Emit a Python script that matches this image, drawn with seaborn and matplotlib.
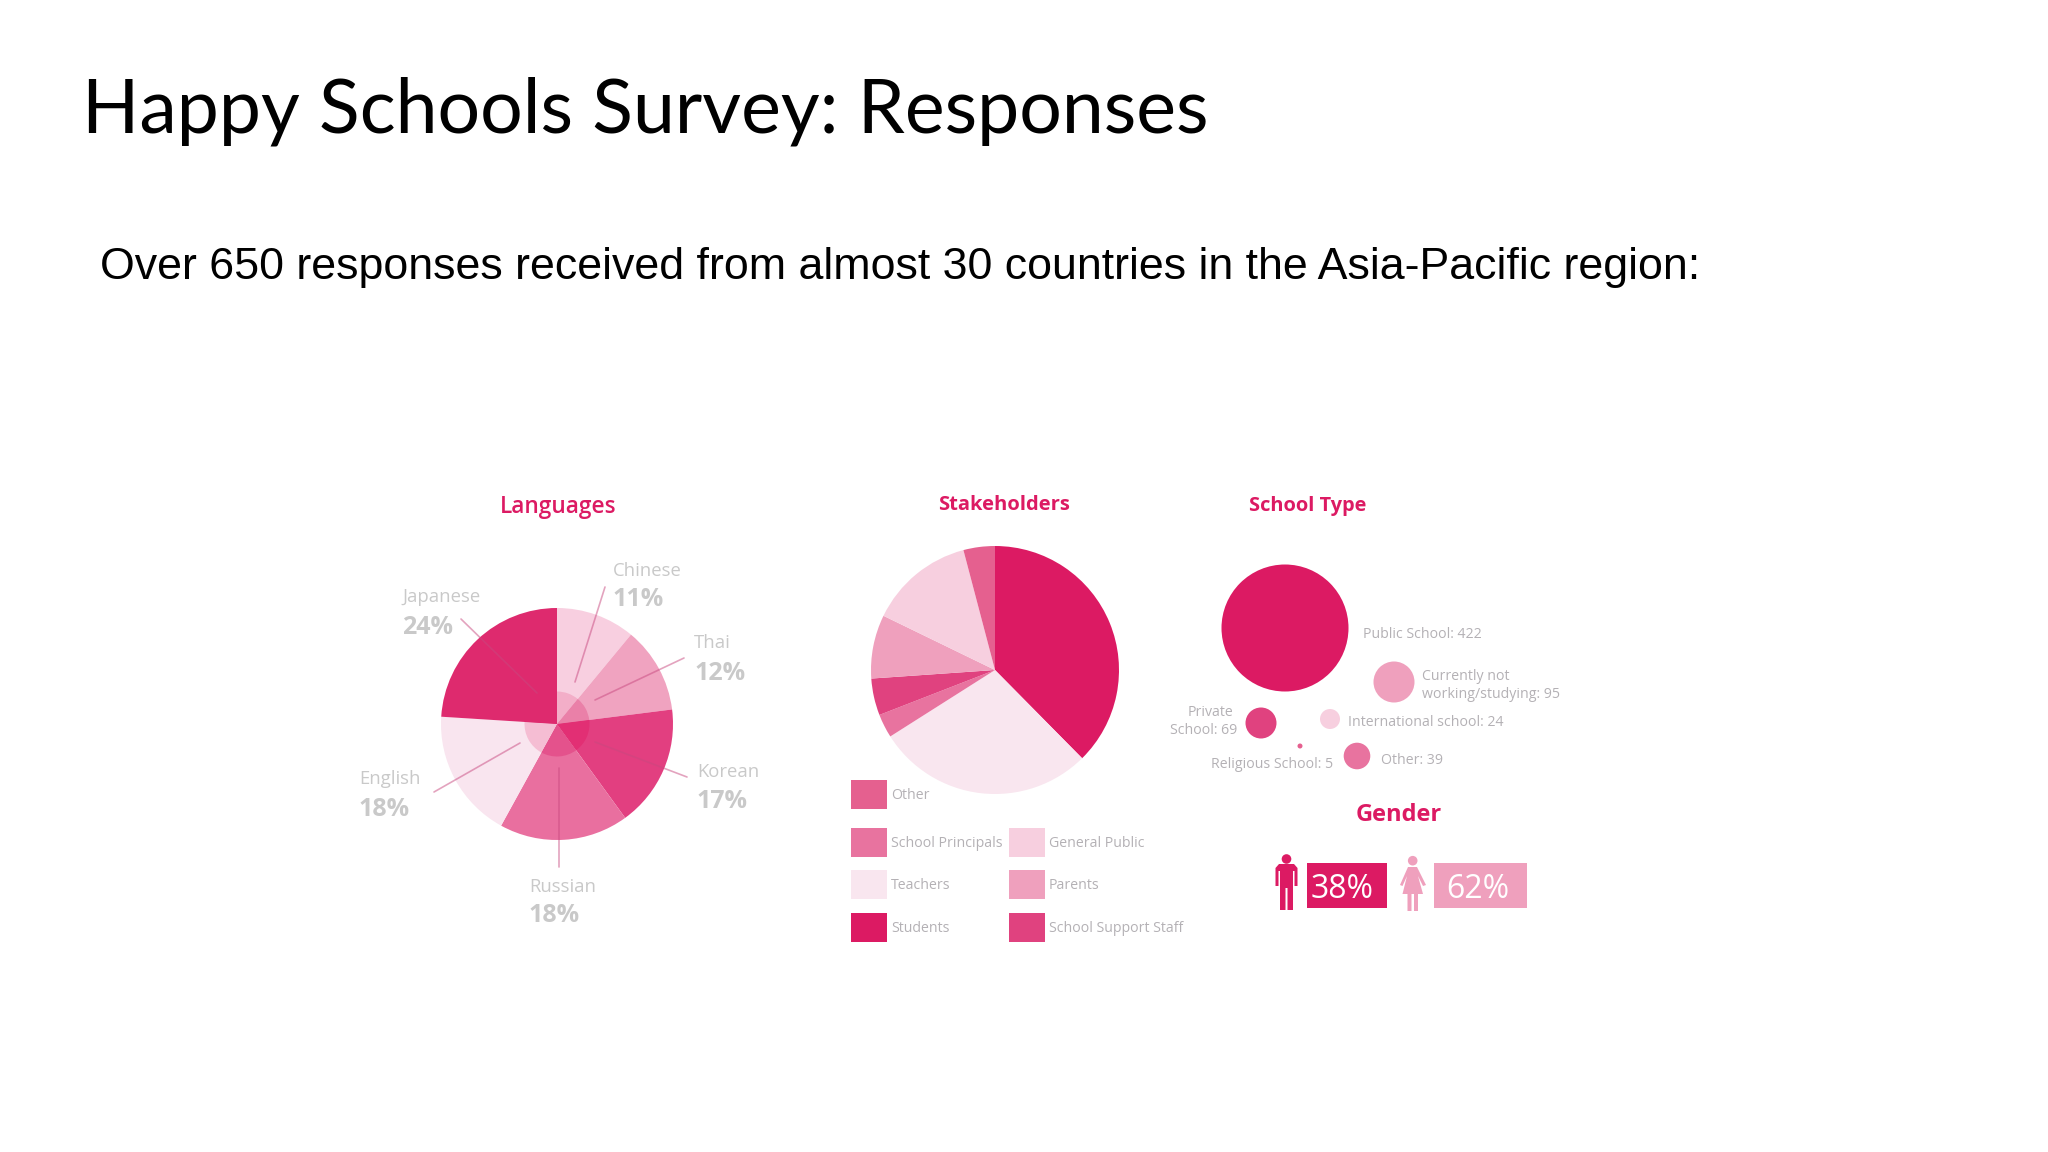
import matplotlib
matplotlib.use('Agg')
import matplotlib.pyplot as plt
from matplotlib.patches import Rectangle, Circle, Polygon
import pandas as pd
import seaborn as sns

PAGE_W, PAGE_H = 2048, 1152

# values
languages = ['Chinese', 'Thai', 'Korean', 'Russian', 'English', 'Japanese']
language_pct = [11, 12, 17, 18, 18, 24]
stakeholders = ['Students', 'Teachers', 'School Principals', 'School Support Staff',
                'Parents', 'General Public', 'Other']
stakeholder_pct = [37.6, 28.4, 3.1, 4.8, 8.3, 13.7, 4.1]
school_types = ['Public School', 'Currently not working/studying', 'Private School',
                'International school', 'Religious School', 'Other']
school_counts = [422, 95, 69, 24, 5, 39]
gender_pct = [38, 62]

# colours
PINK = '#dc1a63'
language_colors = ['#f8cfe0', '#f0a3c0', '#e23f80', '#e96f9f', '#f9e5ef', '#de2a6e']
language_inner = ['#f3aec8', '#ea80a8', '#e22f74', '#e4528c', '#f5bdd3', '#de2a6e']
stakeholder_colors = ['#dc1a63', '#f9e6ef', '#e8739f', '#e0427f', '#efa0bd', '#f7cfdf', '#e5608f']
bubble_colors = ['#dc1a63', '#efa0bd', '#e0427f', '#f7cfdf', '#e5608f', '#e8739f']
LABEL_GREY = '#c9c9c9'
TEXT_GREY = '#b4b1b5'
NO_EDGE = {'linewidth': 0}

sns.set_theme(style='white')
plt.rcParams['font.family'] = ['Open Sans', 'DejaVu Sans']

fig = plt.figure(figsize=(PAGE_W / 100, PAGE_H / 100), dpi=100, facecolor='white')
page = fig.add_axes([0, 0, 1, 1])
page.set_xlim(0, PAGE_W)
page.set_ylim(PAGE_H, 0)
page.axis('off')


def pie_axes(cx, cy, r):
    pad = r * 1.05
    ax = fig.add_axes([(cx - pad) / PAGE_W, 1 - (cy + pad) / PAGE_H, 2 * pad / PAGE_W, 2 * pad / PAGE_H])
    ax.set_zorder(1)
    return ax


# headers
page.text(82, 111, 'Happy Schools Survey: Responses', family='Lato', fontsize=54.2, color='black', va='center')
page.text(100, 268, 'Over 650 responses received from almost 30 countries in the Asia-Pacific region:',
          family='Liberation Sans', fontsize=32.2, color='black', va='center')

for txt, x, y, size, weight in [('Languages', 558, 507, 16.3, 'semibold'), ('Stakeholders', 1004, 505, 14.5, 'bold'),
                                ('School Type', 1308, 506, 14.4, 'bold'), ('Gender', 1399, 815, 17, 'bold')]:
    page.text(x, y, txt, color=PINK, fontsize=size, fontweight=weight, ha='center', va='center')

# Languages pie, with a small inner ring in a shifted tint
ax = pie_axes(557, 724, 116)
ax.pie(language_pct, colors=sns.color_palette(language_colors), startangle=90, counterclock=False,
       radius=1, wedgeprops=NO_EDGE)
ax.pie(language_pct, colors=sns.color_palette(language_inner), startangle=90, counterclock=False,
       radius=0.28, wedgeprops=NO_EDGE)
ax.set_xlim(-1.05, 1.05)
ax.set_ylim(-1.05, 1.05)

lines_ax = fig.add_axes([0, 0, 1, 1], facecolor='none')
lines_ax.set_xlim(0, PAGE_W)
lines_ax.set_ylim(PAGE_H, 0)
lines_ax.axis('off')
lines_ax.set_zorder(2)
for x0, y0, x1, y1 in [(605, 587, 575, 682), (684, 658, 595, 700), (687, 777, 595, 742),
                       (559, 867, 559, 768), (434, 792, 520, 743), (461, 619, 537, 693)]:
    lines_ax.plot([x0, x1], [y0, y1], color='#c8487f', alpha=0.5, lw=1.2)

label_pos = [(613, 571, 600), (694, 643, 673), (697, 772, 802), (529, 887, 916), (359, 779, 810), (402, 597, 627)]
for name, pct, (x, y0, y1) in zip(languages, language_pct, label_pos):
    page.text(x, y0, name, color=LABEL_GREY, fontsize=13.3, va='center')
    page.text(x, y1, f'{pct}%', color=LABEL_GREY, fontsize=18, fontweight='bold', va='center')

# Stakeholders pie and its legend
ax = pie_axes(995, 670, 124)
ax.pie(stakeholder_pct, colors=sns.color_palette(stakeholder_colors), startangle=90, counterclock=False,
       wedgeprops=NO_EDGE)
ax.set_xlim(-1.05, 1.05)
ax.set_ylim(-1.05, 1.05)

legend_pos = {'Other': (851, 780), 'School Principals': (851, 828), 'General Public': (1009, 828),
              'Teachers': (851, 870), 'Parents': (1009, 870), 'Students': (851, 913),
              'School Support Staff': (1009, 913)}
for name, color in zip(stakeholders, stakeholder_colors):
    x, y = legend_pos[name]
    page.add_patch(Rectangle((x, y), 35.5, 28.5, color=color, lw=0))
    page.text(x + 40, y + 15.5, name, color=TEXT_GREY, fontsize=10.2, va='center')

# School type bubbles
bubbles = pd.DataFrame({
    'school': school_types,
    'count': school_counts,
    'x': [1285, 1394, 1261, 1330, 1300, 1357],
    'y': [628, 682, 723, 719, 746, 756],
})
bubble_r = {422: 63.5, 95: 20.5, 69: 15.5, 24: 10, 5: 2.5, 39: 13.3}
bubble_sizes = {k: (2 * r * 0.72) ** 2 for k, r in bubble_r.items()}
sns.scatterplot(data=bubbles, x='x', y='y', size='count', sizes=bubble_sizes, hue='school',
                palette=dict(zip(school_types, bubble_colors)), linewidth=0, legend=False, ax=page)
page.set_xlim(0, PAGE_W)
page.set_ylim(PAGE_H, 0)

for txt, x, y, ha in [('Public School: 422', 1363, 635, 'left'), ('Currently not', 1422, 677, 'left'),
                      ('working/studying: 95', 1422, 694, 'left'), ('International school: 24', 1348, 722, 'left'),
                      ('Private', 1233, 713, 'right'), ('School: 69', 1237, 730, 'right'),
                      ('Religious School: 5', 1211, 765, 'left'), ('Other: 39', 1381, 760, 'left')]:
    page.text(x, y, txt, color=TEXT_GREY, fontsize=10.2, ha=ha, va='center')

# Gender icons and boxes
page.add_patch(Rectangle((1307, 863), 80, 45, color=PINK, lw=0))
page.add_patch(Rectangle((1434, 863), 93, 45, color='#efa0bd', lw=0))
page.text(1342, 890, f'{gender_pct[0]}%', color='white', fontsize=23, ha='center', va='center')
page.text(1478, 890, f'{gender_pct[1]}%', color='white', fontsize=23, ha='center', va='center')

page.add_patch(Circle((1286.5, 859), 4.8, color=PINK, lw=0))
page.add_patch(Polygon([(1279, 864), (1294, 864), (1297.5, 868), (1297.5, 886), (1294.5, 886), (1294.5, 871),
                        (1293, 871), (1293, 910), (1287.5, 910), (1287.5, 888), (1285.5, 888), (1285.5, 910),
                        (1280, 910), (1280, 871), (1278.5, 871), (1278.5, 886), (1275.5, 886), (1275.5, 868)],
                       color=PINK, lw=0))
WOMAN = '#efa0bd'
page.add_patch(Circle((1412.7, 860.7), 4.8, color=WOMAN, lw=0))
page.add_patch(Polygon([(1408, 867), (1417, 867), (1426, 885), (1423, 886), (1418, 876), (1423, 894),
                        (1418, 894), (1418, 911), (1414, 911), (1414, 894), (1411.5, 894), (1411.5, 911),
                        (1407.5, 911), (1407.5, 894), (1402.5, 894), (1407, 876), (1402.5, 886), (1400, 885)],
                       color=WOMAN, lw=0))

fig.savefig('out.png', dpi=100, facecolor='white')
